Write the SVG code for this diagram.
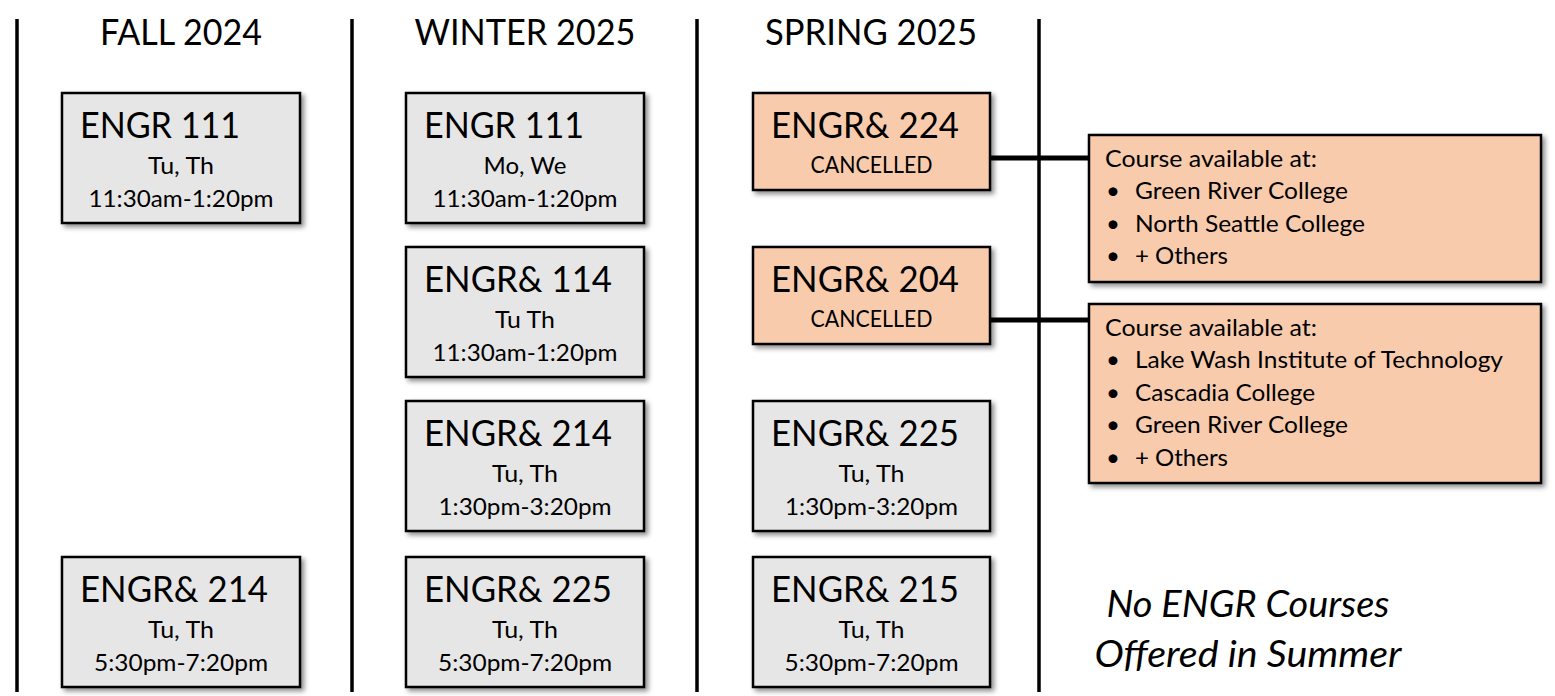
<svg xmlns="http://www.w3.org/2000/svg" width="1555" height="696" viewBox="0 0 1555 696">
  <defs>
    <filter id="sh" x="-10%" y="-10%" width="130%" height="130%">
      <feDropShadow dx="3" dy="3" stdDeviation="2.5" flood-color="#000" flood-opacity="0.45"/>
    </filter>
    <style>
      text { font-family: Lato, "Open Sans", "Liberation Sans", sans-serif; fill: #000; }
      .box { stroke: #000; stroke-width: 2.5; filter: url(#sh); }
      .gray { fill: #e7e6e6; }
      .orange { fill: #f8cbad; }
      .hdr { font-size: 36px; text-anchor: middle; }
      .ttl { font-size: 36px; }
      .sub { font-size: 24px; text-anchor: middle; }
      .lst { font-size: 24px; }
      .note { font-size: 36px; font-style: italic; text-anchor: middle; }
      .vline { stroke: #000; stroke-width: 3.5; }
      .conn { stroke: #000; stroke-width: 5; fill: none; }
    </style>
  </defs>
  <rect width="1555" height="696" fill="#fff"/>

  <g id="dividers">
    <line class="vline" x1="17" y1="19" x2="17" y2="692"/>
    <line class="vline" x1="352" y1="19" x2="352" y2="692"/>
    <line class="vline" x1="697" y1="19" x2="697" y2="692"/>
    <line class="vline" x1="1039" y1="19" x2="1039" y2="692"/>
  </g>

  <g id="headers">
    <text class="hdr" x="181" y="45" textLength="162" lengthAdjust="spacingAndGlyphs">FALL 2024</text>
    <text class="hdr" x="525" y="45" textLength="221" lengthAdjust="spacingAndGlyphs">WINTER 2025</text>
    <text class="hdr" x="871" y="45" textLength="212" lengthAdjust="spacingAndGlyphs">SPRING 2025</text>
  </g>

  <g id="connectors">
    <line class="conn" x1="990" y1="158" x2="1089" y2="158"/>
    <line class="conn" x1="990" y1="320" x2="1089" y2="320"/>
  </g>

  <!-- FALL 2024 -->
  <g id="fall-engr111">
    <rect class="box gray" x="62" y="93" width="238" height="130"/>
    <text class="ttl" x="80" y="138" textLength="160" lengthAdjust="spacingAndGlyphs">ENGR 111</text>
    <text class="sub" x="181" y="174" textLength="66" lengthAdjust="spacingAndGlyphs">Tu, Th</text>
    <text class="sub" x="181" y="207" textLength="185" lengthAdjust="spacingAndGlyphs">11:30am-1:20pm</text>
  </g>
  <g id="fall-engr214">
    <rect class="box gray" x="62" y="557" width="238" height="130"/>
    <text class="ttl" x="80" y="602" textLength="188" lengthAdjust="spacingAndGlyphs">ENGR&amp; 214</text>
    <text class="sub" x="181" y="638" textLength="66" lengthAdjust="spacingAndGlyphs">Tu, Th</text>
    <text class="sub" x="181" y="671" textLength="174" lengthAdjust="spacingAndGlyphs">5:30pm-7:20pm</text>
  </g>

  <!-- WINTER 2025 -->
  <g id="winter-engr111">
    <rect class="box gray" x="406" y="93" width="238" height="130"/>
    <text class="ttl" x="424" y="138" textLength="160" lengthAdjust="spacingAndGlyphs">ENGR 111</text>
    <text class="sub" x="525" y="174" textLength="83" lengthAdjust="spacingAndGlyphs">Mo, We</text>
    <text class="sub" x="525" y="207" textLength="185" lengthAdjust="spacingAndGlyphs">11:30am-1:20pm</text>
  </g>
  <g id="winter-engr114">
    <rect class="box gray" x="406" y="247" width="238" height="130"/>
    <text class="ttl" x="424" y="292" textLength="188" lengthAdjust="spacingAndGlyphs">ENGR&amp; 114</text>
    <text class="sub" x="525" y="328" textLength="60" lengthAdjust="spacingAndGlyphs">Tu Th</text>
    <text class="sub" x="525" y="361" textLength="185" lengthAdjust="spacingAndGlyphs">11:30am-1:20pm</text>
  </g>
  <g id="winter-engr214">
    <rect class="box gray" x="406" y="401" width="238" height="130"/>
    <text class="ttl" x="424" y="446" textLength="188" lengthAdjust="spacingAndGlyphs">ENGR&amp; 214</text>
    <text class="sub" x="525" y="482" textLength="66" lengthAdjust="spacingAndGlyphs">Tu, Th</text>
    <text class="sub" x="525" y="515" textLength="173" lengthAdjust="spacingAndGlyphs">1:30pm-3:20pm</text>
  </g>
  <g id="winter-engr225">
    <rect class="box gray" x="406" y="557" width="238" height="130"/>
    <text class="ttl" x="424" y="602" textLength="188" lengthAdjust="spacingAndGlyphs">ENGR&amp; 225</text>
    <text class="sub" x="525" y="638" textLength="66" lengthAdjust="spacingAndGlyphs">Tu, Th</text>
    <text class="sub" x="525" y="671" textLength="174" lengthAdjust="spacingAndGlyphs">5:30pm-7:20pm</text>
  </g>

  <!-- SPRING 2025 -->
  <g id="spring-engr224">
    <rect class="box orange" x="753" y="93" width="237" height="97"/>
    <text class="ttl" x="771" y="138" textLength="188" lengthAdjust="spacingAndGlyphs">ENGR&amp; 224</text>
    <text class="sub" x="871.5" y="173" textLength="122" lengthAdjust="spacingAndGlyphs">CANCELLED</text>
  </g>
  <g id="spring-engr204">
    <rect class="box orange" x="753" y="247" width="237" height="97"/>
    <text class="ttl" x="771" y="292" textLength="188" lengthAdjust="spacingAndGlyphs">ENGR&amp; 204</text>
    <text class="sub" x="871.5" y="327" textLength="122" lengthAdjust="spacingAndGlyphs">CANCELLED</text>
  </g>
  <g id="spring-engr225">
    <rect class="box gray" x="753" y="401" width="237" height="130"/>
    <text class="ttl" x="771" y="446" textLength="188" lengthAdjust="spacingAndGlyphs">ENGR&amp; 225</text>
    <text class="sub" x="871.5" y="482" textLength="66" lengthAdjust="spacingAndGlyphs">Tu, Th</text>
    <text class="sub" x="871.5" y="515" textLength="173" lengthAdjust="spacingAndGlyphs">1:30pm-3:20pm</text>
  </g>
  <g id="spring-engr215">
    <rect class="box gray" x="753" y="557" width="237" height="130"/>
    <text class="ttl" x="771" y="602" textLength="188" lengthAdjust="spacingAndGlyphs">ENGR&amp; 215</text>
    <text class="sub" x="871.5" y="638" textLength="66" lengthAdjust="spacingAndGlyphs">Tu, Th</text>
    <text class="sub" x="871.5" y="671" textLength="174" lengthAdjust="spacingAndGlyphs">5:30pm-7:20pm</text>
  </g>

  <!-- Alternatives -->
  <g id="alt-engr224">
    <rect class="box orange" x="1089" y="135" width="452" height="147"/>
    <text class="lst" x="1105" y="167" textLength="212" lengthAdjust="spacingAndGlyphs">Course available at:</text>
    <text class="lst" x="1106" y="199">•</text>
    <text class="lst" x="1135" y="199" textLength="213" lengthAdjust="spacingAndGlyphs">Green River College</text>
    <text class="lst" x="1106" y="231.5">•</text>
    <text class="lst" x="1135" y="231.5" textLength="230" lengthAdjust="spacingAndGlyphs">North Seattle College</text>
    <text class="lst" x="1106" y="264">•</text>
    <text class="lst" x="1135" y="264" textLength="93" lengthAdjust="spacingAndGlyphs">+ Others</text>
  </g>
  <g id="alt-engr204">
    <rect class="box orange" x="1089" y="304" width="452" height="179"/>
    <text class="lst" x="1105" y="336" textLength="212" lengthAdjust="spacingAndGlyphs">Course available at:</text>
    <text class="lst" x="1106" y="368">•</text>
    <text class="lst" x="1135" y="368" textLength="368" lengthAdjust="spacingAndGlyphs">Lake Wash Institute of Technology</text>
    <text class="lst" x="1106" y="401">•</text>
    <text class="lst" x="1135" y="401" textLength="180" lengthAdjust="spacingAndGlyphs">Cascadia College</text>
    <text class="lst" x="1106" y="433">•</text>
    <text class="lst" x="1135" y="433" textLength="213" lengthAdjust="spacingAndGlyphs">Green River College</text>
    <text class="lst" x="1106" y="465.5">•</text>
    <text class="lst" x="1135" y="465.5" textLength="93" lengthAdjust="spacingAndGlyphs">+ Others</text>
  </g>

  <g id="summer-note">
    <text class="note" x="1248" y="617" textLength="283" lengthAdjust="spacingAndGlyphs">No ENGR Courses</text>
    <text class="note" x="1248" y="667" textLength="307" lengthAdjust="spacingAndGlyphs">Offered in Summer</text>
  </g>
</svg>
